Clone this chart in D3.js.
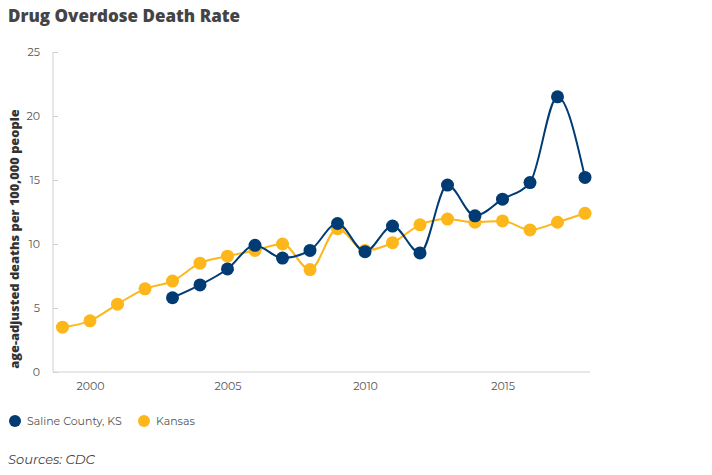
<!DOCTYPE html>
<html><head><meta charset="utf-8">
<script src="https://cdn.jsdelivr.net/npm/d3@7"></script>
<style>body{margin:0;background:#fff;} svg{display:block;}</style>
</head><body>
<svg id="c" width="712" height="475"></svg>
<script>
const years = d3.range(1999, 2019);
const kansasValues = [3.5, 4.0, 5.3, 6.5, 7.1, 8.5, 9.05, 9.5, 10.0, 8.0, 11.2, 9.5, 10.1, 11.5, 11.95, 11.7, 11.8, 11.1, 11.7, 12.4];
const salineYears = d3.range(2003, 2019);
const salineValues = [5.8, 6.8, 8.05, 9.9, 8.9, 9.5, 11.6, 9.4, 11.4, 9.3, 14.6, 12.2, 13.5, 14.8, 21.5, 15.2];
const yTicks = [0, 5, 10, 15, 20, 25];
const xTicks = [2000, 2005, 2010, 2015];
const seriesNames = ["Saline County, KS", "Kansas"];
const colors = ["#003b73", "#fdb71a"];

const svg = d3.select("#c");
const font = "Montserrat, 'Open Sans', 'DejaVu Sans', sans-serif";
const x = d3.scaleLinear().domain([1999, 2018]).range([62.5, 585]);
const y = d3.scaleLinear().domain([0, 25]).range([372, 52]);

svg.append("text").attr("x", 8).attr("y", 22).text("Drug Overdose Death Rate")
  .attr("font-family", "'Open Sans', sans-serif").attr("font-weight", 800).attr("font-size", 17).attr("fill", "#444");

// y axis
const ya = svg.append("g").attr("transform", "translate(53,0)")
  .call(d3.axisLeft(y).tickValues(yTicks).tickSize(-5).tickPadding(13));
ya.select(".domain").attr("stroke", "#d0d0d0").attr("d", "M0,52V372");
ya.selectAll(".tick line").attr("stroke", "#d0d0d0");
ya.selectAll("text").attr("font-family", font).attr("font-size", 11).attr("fill", "#555");

// x axis
const xa = svg.append("g").attr("transform", "translate(0,372)")
  .call(d3.axisBottom(x).tickValues(xTicks).tickFormat(d3.format("d")).tickSize(0).tickPadding(10));
xa.select(".domain").attr("stroke", "#d0d0d0").attr("d", "M53,0H590");
xa.selectAll("text").attr("font-family", font).attr("font-size", 11).attr("fill", "#555");

svg.append("text").attr("transform", "translate(19,239) rotate(-90)").attr("text-anchor", "middle")
  .text("age-adjusted deaths per 100,000 people")
  .attr("font-family", "'Open Sans', sans-serif").attr("font-weight", 800).attr("font-size", 12.8).attr("fill", "#333");

const line = d3.line().x(d => x(d[0])).y(d => y(d[1])).curve(d3.curveMonotoneX);
const kData = years.map((yr, i) => [yr, kansasValues[i]]);
const sData = salineYears.map((yr, i) => [yr, salineValues[i]]);

function draw(data, color) {
  svg.append("path").datum(data).attr("d", line).attr("fill", "none").attr("stroke", color).attr("stroke-width", 2);
  svg.append("g").selectAll("circle").data(data).join("circle")
    .attr("cx", d => x(d[0])).attr("cy", d => y(d[1])).attr("r", 6.5).attr("fill", color);
}
draw(kData, colors[1]);
draw(sData, colors[0]);

// legend
const legX = [15, 144];
seriesNames.forEach((n, i) => {
  svg.append("circle").attr("cx", legX[i]).attr("cy", 421).attr("r", 6).attr("fill", colors[i]);
  svg.append("text").attr("x", legX[i] + 12).attr("y", 425).text(n)
    .attr("font-family", font).attr("font-size", 11).attr("fill", "#555");
});

svg.append("text").attr("x", 8).attr("y", 464).text("Sources: CDC")
  .attr("font-family", font).attr("font-style", "italic").attr("font-size", 13).attr("fill", "#444");
</script>
</body></html>
